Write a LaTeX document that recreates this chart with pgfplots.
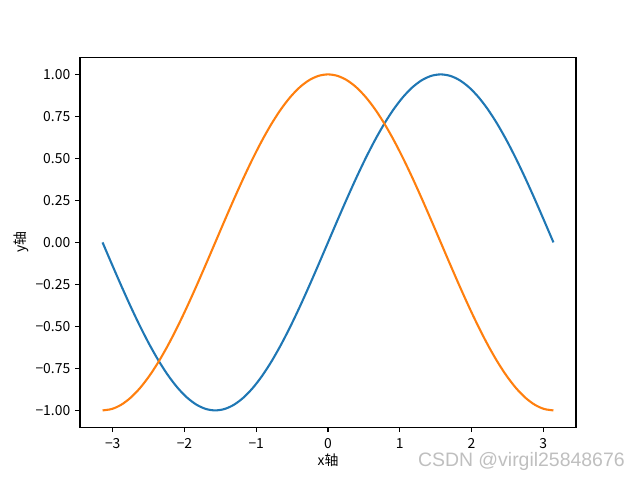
\documentclass[border=0pt]{standalone}
\usepackage{fontspec}
\setmainfont{Noto Sans CJK SC}
\newfontfamily\wm{Liberation Sans}
\usepackage{pgfplots}
\usepackage{pgfplotstable}
\pgfplotsset{compat=1.18}
\definecolor{c0}{HTML}{1F77B4}
\definecolor{c1}{HTML}{FF7F0E}
\pgfplotstableread{
x s c
-3.1416 0 -1
-3.0107 -0.130526 -0.991445
-2.8798 -0.258819 -0.965926
-2.7489 -0.382683 -0.923880
-2.6180 -0.5 -0.866025
-2.4871 -0.608761 -0.793353
-2.3562 -0.707107 -0.707107
-2.2253 -0.793353 -0.608761
-2.0944 -0.866025 -0.5
-1.9635 -0.923880 -0.382683
-1.8326 -0.965926 -0.258819
-1.7017 -0.991445 -0.130526
-1.5708 -1 0
-1.4399 -0.991445 0.130526
-1.3090 -0.965926 0.258819
-1.1781 -0.923880 0.382683
-1.0472 -0.866025 0.5
-0.9163 -0.793353 0.608761
-0.7854 -0.707107 0.707107
-0.6545 -0.608761 0.793353
-0.5236 -0.5 0.866025
-0.3927 -0.382683 0.923880
-0.2618 -0.258819 0.965926
-0.1309 -0.130526 0.991445
0 0 1
0.1309 0.130526 0.991445
0.2618 0.258819 0.965926
0.3927 0.382683 0.923880
0.5236 0.5 0.866025
0.6545 0.608761 0.793353
0.7854 0.707107 0.707107
0.9163 0.793353 0.608761
1.0472 0.866025 0.5
1.1781 0.923880 0.382683
1.3090 0.965926 0.258819
1.4399 0.991445 0.130526
1.5708 1 0
1.7017 0.991445 -0.130526
1.8326 0.965926 -0.258819
1.9635 0.923880 -0.382683
2.0944 0.866025 -0.5
2.2253 0.793353 -0.608761
2.3562 0.707107 -0.707107
2.4871 0.608761 -0.793353
2.6180 0.5 -0.866025
2.7489 0.382683 -0.923880
2.8798 0.258819 -0.965926
3.0107 0.130526 -0.991445
3.1416 0 -1
}\data
\begin{document}
\begin{tikzpicture}
\path[use as bounding box] (0,0) rectangle (460.8pt,345.6pt);
\begin{axis}[
  at={(57.6pt,38.016pt)}, anchor=south west,
  scale only axis, width=357.12pt, height=266.11pt,
  xmin=-3.4558, xmax=3.4558, ymin=-1.1, ymax=1.1,
  axis line style={line width=0.8pt},
  tick style={line width=0.8pt, black},
  tick align=outside, major tick length=3.5pt,
  xtick={-3,-2,-1,0,1,2,3},
  xticklabels={−3,−2,−1,0,1,2,3},
  ytick={-1,-0.75,-0.5,-0.25,0,0.25,0.5,0.75,1},
  yticklabels={−1.00,−0.75,−0.50,−0.25,0.00,0.25,0.50,0.75,1.00},
  xtick pos=bottom, ytick pos=left,
  ticklabel style={font=\fontsize{10}{12}\selectfont},
  xticklabel style={yshift=-1pt},
  xlabel={x轴}, ylabel={y轴},
  label style={font=\fontsize{10}{12}\selectfont},
  xlabel style={yshift=3pt},
  ylabel style={yshift=-2pt},
]
\addplot[c0, line width=1.5pt, smooth] table[x=x,y=s]{\data};
\addplot[c1, line width=1.5pt, smooth] table[x=x,y=c]{\data};
\end{axis}
\node[anchor=base east, text=black!25, font=\wm\fontsize{14}{16}\selectfont, inner sep=0pt] at (450pt,9.4pt) {CSDN @virgil25848676};
\end{tikzpicture}
\end{document}
